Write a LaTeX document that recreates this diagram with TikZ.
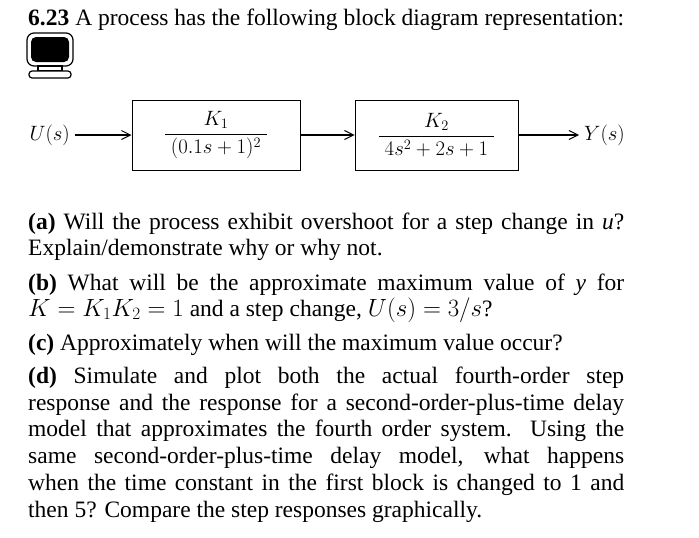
\documentclass[tikz,border=0pt]{standalone}
\usepackage{amsmath}
\usepackage{fontspec}
\setmainfont{Liberation Serif}
\usetikzlibrary{arrows.meta}
\begin{document}
\begin{tikzpicture}[x=1pt,y=-1pt,
  blk/.style={draw,line width=1pt,minimum width=168pt,minimum height=70pt,inner sep=0pt},
  sig/.style={line width=1.4pt,-{Straight Barb[length=9pt,width=9pt,line width=1pt]}},
  ln/.style={anchor=base west,inner sep=0pt,font=\fontsize{23.5}{28}\selectfont}]
\useasboundingbox (0,0) rectangle (699,538);
\node[ln] (title) at (28,25) {\textbf{6.23}\hspace{6pt}A process has the following block diagram representation:};
% monitor icon
\draw[line width=1.2pt,rounded corners=7pt,fill=white] (27,33) rectangle (73,66);
\fill[black,rounded corners=5pt] (31,37) rectangle (69,62);
\draw[line width=1.2pt,fill=white] (38,66) rectangle (62,71);
\draw[line width=1.2pt,rounded corners=3pt,fill=white] (29,71) rectangle (71,78);
% blocks
\node[blk] (b1) at (216,135) {\fontsize{21}{25}\selectfont$\dfrac{K_1}{\;(0.1s+1)^2\;}$};
\node[blk,minimum width=163pt] (b2) at (436.5,135) {\fontsize{21}{25}\selectfont$\dfrac{K_2}{\;4s^2+2s+1\;}$};
\node[anchor=east,inner sep=0pt,font=\fontsize{21}{25}\selectfont] (u) at (70,135) {$U(s)$};
\node[anchor=west,inner sep=0pt,font=\fontsize{21}{25}\selectfont] (y) at (584,135) {$Y(s)$};
\draw[sig] (u.east)++(5,0) -- (b1.west);
\draw[sig] (b1.east) -- (b2.west);
\coordinate (ye) at (579,135);
\draw[sig] (b2.east) -- (ye);
% text
\def\W{596pt}
\node[ln] (l1) at (28,229) {\makebox[\W][s]{\textbf{(a)} Will the process exhibit overshoot for a step change in \textit{u}?}};
\node[ln] (l2) at (28,255) {Explain/demonstrate why or why not.};
\node[ln] (l3) at (28,290) {\makebox[\W][s]{\textbf{(b)} What will be the approximate maximum value of \textit{y} for}};
\node[ln] (l4) at (28,316) {$K = K_1K_2 = 1$ and a step change, $U(s) = 3/s$?};
\node[ln] (l5) at (28,350) {\textbf{(c)} Approximately when will the maximum value occur?};
\node[ln] (l6) at (28,383) {\makebox[\W][s]{\textbf{(d)} Simulate and plot both the actual fourth-order step}};
\node[ln] (l7) at (28,410) {\makebox[\W][s]{response and the response for a second-order-plus-time delay}};
\node[ln] (l8) at (28,436) {\makebox[\W][s]{model that approximates the fourth order system. Using the}};
\node[ln] (l9) at (28,463) {\makebox[\W][s]{same second-order-plus-time delay model, what happens}};
\node[ln] (l10) at (28,490) {\makebox[\W][s]{when the time constant in the first block is changed to 1 and}};
\node[ln] (l11) at (28,517) {then 5? Compare the step responses graphically.};
\end{tikzpicture}
\end{document}
